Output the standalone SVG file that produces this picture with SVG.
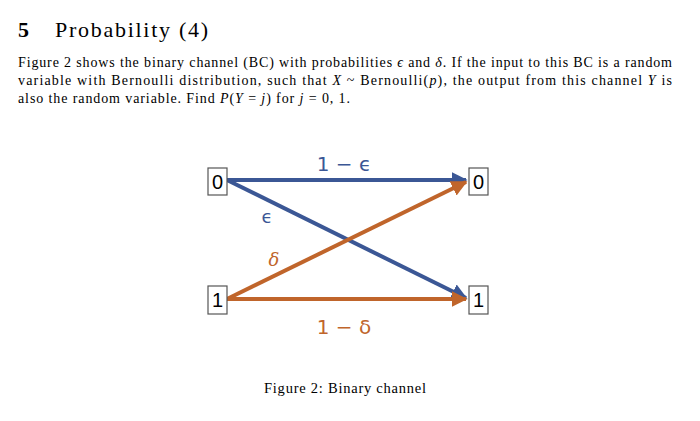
<svg xmlns="http://www.w3.org/2000/svg" width="700" height="421" viewBox="0 0 700 421">
<style>
.t{font-family:"Liberation Serif",serif;fill:#000}
.b{font-family:"Liberation Sans",sans-serif;font-size:20px;fill:#000}
.box{fill:#fff;stroke:#555;stroke-width:1.2}
.bl{stroke:#3b5795;stroke-width:4;fill:none}
.or{stroke:#c0652b;stroke-width:4;fill:none}
</style>
<defs>
<marker id="ab" viewBox="0 0 10 10" refX="9" refY="5" markerWidth="4" markerHeight="4" orient="auto"><path d="M0,0L10,5L0,10z" fill="#3b5795"/></marker>
<marker id="ao" viewBox="0 0 10 10" refX="9" refY="5" markerWidth="4" markerHeight="4" orient="auto"><path d="M0,0L10,5L0,10z" fill="#c0652b"/></marker>
</defs>
<rect width="700" height="421" fill="#fff"/>
<text class="t" x="18" y="37" font-size="22" font-weight="bold">5</text>
<text class="t" x="55" y="37" font-size="22" textLength="153" lengthAdjust="spacing">Probability (4)</text>
<text class="t" x="18" y="67" font-size="14" textLength="654" lengthAdjust="spacing">Figure 2 shows the binary channel (BC) with probabilities <tspan font-style="italic">ϵ</tspan> and <tspan font-style="italic">δ</tspan>. If the input to this BC is a random</text>
<text class="t" x="18" y="85" font-size="14" textLength="654" lengthAdjust="spacing">variable with Bernoulli distribution, such that <tspan font-style="italic">X</tspan> ~ Bernoulli(<tspan font-style="italic">p</tspan>), the output from this channel <tspan font-style="italic">Y</tspan> is</text>
<text class="t" x="18" y="103" font-size="14" textLength="332" lengthAdjust="spacing">also the random variable. Find <tspan font-style="italic">P</tspan>(<tspan font-style="italic">Y</tspan> = <tspan font-style="italic">j</tspan>) for <tspan font-style="italic">j</tspan> = 0, 1.</text>
<g id="connectors">
<line class="bl" x1="227" y1="180" x2="466" y2="180" marker-end="url(#ab)"/>
<line class="bl" x1="227" y1="180" x2="466" y2="298" marker-end="url(#ab)"/>
<line class="or" x1="227" y1="299" x2="466" y2="182" marker-end="url(#ao)"/>
<line class="or" x1="227" y1="299" x2="466" y2="299" marker-end="url(#ao)"/>
<text x="344" y="171" font-family="DejaVu Sans,sans-serif" font-size="20" fill="#3b5795" text-anchor="middle">1 − ϵ</text>
<text x="267" y="223" font-family="DejaVu Sans,sans-serif" font-size="18" fill="#3b5795" text-anchor="middle">ϵ</text>
<text x="274" y="266" font-family="DejaVu Serif,serif" font-style="italic" font-size="18" fill="#c0652b" text-anchor="middle">δ</text>
<text x="344" y="334" font-family="DejaVu Sans,sans-serif" font-size="20" fill="#c0652b" text-anchor="middle">1 − δ</text>
</g>
<g id="in0"><rect class="box" x="208" y="168" width="19" height="27"/><text class="b" x="217.5" y="189" text-anchor="middle">0</text></g>
<g id="in1"><rect class="box" x="208" y="286" width="19" height="28"/><text class="b" x="217.5" y="307" text-anchor="middle">1</text></g>
<g id="out0"><rect class="box" x="469" y="168" width="19" height="27"/><text class="b" x="478.5" y="189" text-anchor="middle">0</text></g>
<g id="out1"><rect class="box" x="469" y="286" width="19" height="28"/><text class="b" x="478.5" y="307" text-anchor="middle">1</text></g>
<text class="t" x="345" y="393" font-size="14.5" text-anchor="middle" textLength="162" lengthAdjust="spacing">Figure 2: Binary channel</text>
</svg>
